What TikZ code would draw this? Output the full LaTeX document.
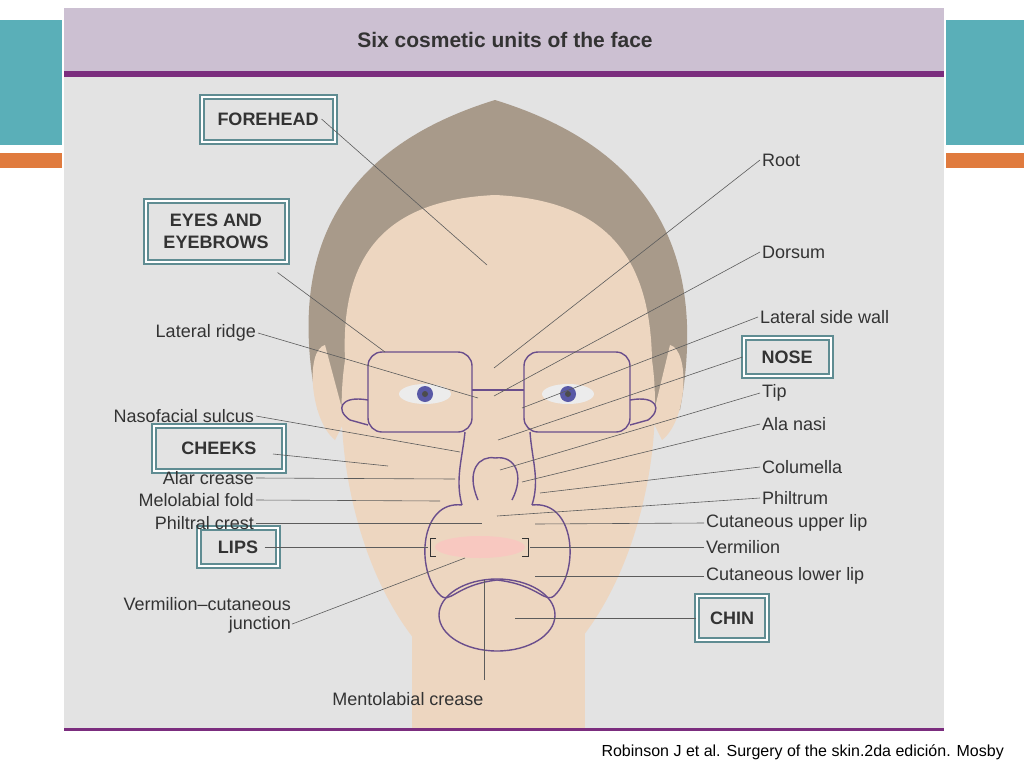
\documentclass[tikz,border=0pt]{standalone}
\usepackage{fontspec}
\setmainfont{Liberation Sans}
\usetikzlibrary{positioning}
\definecolor{teal}{HTML}{5AAFB8}
\definecolor{orng}{HTML}{E07B3E}
\definecolor{panel}{HTML}{E3E3E3}
\definecolor{band}{HTML}{CCC0D2}
\definecolor{purp}{HTML}{7B2D7E}
\definecolor{hair}{HTML}{A89A8A}
\definecolor{skin}{HTML}{EDD6C0}
\definecolor{unit}{HTML}{6A4E8C}
\definecolor{boxc}{HTML}{5F8C92}
\definecolor{txt}{HTML}{333333}
\tikzset{
  lbl/.style={font=\fontsize{18}{19}\selectfont, text=txt, inner sep=2pt},
  unitbox/.style={font=\bfseries\fontsize{18}{22}\selectfont, text=txt, draw=boxc,
    double=white, double distance=2pt, line width=2pt, inner sep=4pt, align=center},
  lead/.style={draw=txt!80, line width=0.6pt},
  cu/.style={draw=unit, line width=1.4pt}
}
\begin{document}
\begin{tikzpicture}[x=1pt, y=-1pt]
  \useasboundingbox (0,0) rectangle (1024,768);
  \fill[white] (0,0) rectangle (1024,768);
  % side bars
  \fill[teal] (0,20) rectangle (62,145);
  \fill[teal] (946,20) rectangle (1024,145);
  \fill[orng] (0,153) rectangle (62,168);
  \fill[orng] (946,153) rectangle (1024,168);
  % panel
  \fill[panel] (64,8) rectangle (944,730);
  \fill[band] (64,8) rectangle (944,72);
  \fill[purp] (64,71) rectangle (944,77);
  \fill[purp] (64,728) rectangle (944,731);
  \node[font=\bfseries\fontsize{21}{24}\selectfont, text=txt] (title) at (505,40) {Six cosmetic units of the face};

  % hair, neck, face
  \fill[hair] (318,410) .. controls (295,300) and (300,160) .. (495,100)
    .. controls (690,160) and (700,300) .. (680,410) -- cycle;
  \fill[skin] (412,620) rectangle (585,728);
  \fill[skin] (325,345) .. controls (305,350) and (310,420) .. (335,440) -- (345,420) -- cycle;
  \fill[skin] (670,345) .. controls (690,350) and (688,420) .. (662,440) -- (652,420) -- cycle;
  \fill[skin] (345,360) .. controls (340,250) and (390,200) .. (495,195)
    .. controls (600,200) and (650,250) .. (652,360)
    .. controls (668,470) and (620,660) .. (497,700)
    .. controls (375,660) and (328,470) .. (345,360) -- cycle;
  % eyes
  \fill[white!85!gray] (425,394) ellipse (26 and 10);
  \fill[white!85!gray] (568,394) ellipse (26 and 10);
  \fill[gray!70!blue] (425,394) circle (8);
  \fill[gray!70!blue] (568,394) circle (8);
  \fill[black!70] (425,394) circle (3);
  \fill[black!70] (568,394) circle (3);
  % lips
  \fill[pink!60!skin] (480,547) ellipse (45 and 11);

  % cosmetic units
  \draw[cu, rounded corners=14] (368,352) rectangle (472,432);
  \draw[cu, rounded corners=14] (524,352) rectangle (630,432);
  \draw[cu] (472,390) -- (524,390);
  \draw[cu] (368,400) .. controls (340,395) and (335,410) .. (350,420) -- (368,425);
  \draw[cu] (630,400) .. controls (658,395) and (662,410) .. (648,420) -- (630,425);
  \draw[cu] (465,432) .. controls (462,460) and (455,480) .. (462,505);
  \draw[cu] (530,432) .. controls (532,460) and (540,480) .. (532,505);
  \draw[cu] (478,500) .. controls (465,470) and (480,455) .. (495,458)
    .. controls (515,455) and (525,475) .. (512,500);
  \draw[cu] (462,505) .. controls (420,500) and (415,570) .. (440,595)
    .. controls (450,605) and (455,585) .. (497,580)
    .. controls (540,585) and (545,605) .. (555,595)
    .. controls (580,570) and (575,500) .. (532,505);
  \draw[cu] (497,615) ellipse (58 and 36);
  \draw[line width=0.8pt, txt] (436,538) -- (430,538) -- (430,556) -- (436,556);
  \draw[line width=0.8pt, txt] (522,538) -- (528,538) -- (528,556) -- (522,556);

  % target points
  \coordinate (pFore) at (487,265);
  \coordinate (pEyes) at (385,352);
  \coordinate (pLat) at (478,398);
  \coordinate (pNaso) at (460,452);
  \coordinate (pCheek) at (388,466);
  \coordinate (pAlar) at (455,479);
  \coordinate (pMelo) at (440,501);
  \coordinate (pPhc) at (482,523);
  \coordinate (pLips) at (428,547);
  \coordinate (pVcj) at (465,558);
  \coordinate (pMent) at (484,580);
  \coordinate (pRoot) at (494,368);
  \coordinate (pDors) at (494,396);
  \coordinate (pLsw) at (522,408);
  \coordinate (pNose) at (498,440);
  \coordinate (pTip) at (500,470);
  \coordinate (pAla) at (522,482);
  \coordinate (pCol) at (540,493);
  \coordinate (pPhil) at (497,516);
  \coordinate (pCul) at (535,524);
  \coordinate (pVerm) at (530,547);
  \coordinate (pCll) at (535,576);
  \coordinate (pChin) at (515,618);

  % unit boxes
  \node[unitbox, minimum width=133pt, minimum height=45pt] (fore) at (268,119) {FOREHEAD};
  \node[unitbox, minimum width=141pt, minimum height=61pt] (eyes) at (216,231) {EYES AND\\EYEBROWS};
  \node[unitbox, minimum width=130pt, minimum height=45pt] (cheeks) at (219,448) {CHEEKS};
  \node[unitbox, minimum width=79pt, minimum height=38pt] (lips) at (238,547) {LIPS};
  \node[unitbox, minimum width=87pt, minimum height=38pt] (nose) at (787,357) {NOSE};
  \node[unitbox, minimum width=70pt, minimum height=44pt] (chin) at (732,618) {CHIN};

  % left labels
  \node[lbl, anchor=east] (lat) at (258,333) {Lateral ridge};
  \node[lbl, anchor=east] (naso) at (256,416) {Nasofacial sulcus};
  \node[lbl, anchor=east] (alar) at (256,478) {Alar crease};
  \node[lbl, anchor=east] (melo) at (256,500) {Melolabial fold};
  \node[lbl, anchor=east] (phc) at (256,523) {Philtral crest};
  \node[lbl, anchor=east, align=right, inner sep=1pt] (vcj) at (292,615) {Vermilion–cutaneous\\junction};
  \node[lbl] (ment) at (408,699) {Mentolabial crease};
  % right labels
  \node[lbl, anchor=west] (root) at (760,160) {Root};
  \node[lbl, anchor=west] (dors) at (760,252) {Dorsum};
  \node[lbl, anchor=west] (lsw) at (758,317) {Lateral side wall};
  \node[lbl, anchor=west] (tip) at (760,393) {Tip};
  \node[lbl, anchor=west] (ala) at (760,424) {Ala nasi};
  \node[lbl, anchor=west] (col) at (760,467) {Columella};
  \node[lbl, anchor=west] (phil) at (760,498) {Philtrum};
  \node[lbl, anchor=west] (cul) at (704,523) {Cutaneous upper lip};
  \node[lbl, anchor=west] (verm) at (704,547) {Vermilion};
  \node[lbl, anchor=west] (cll) at (704,576) {Cutaneous lower lip};

  \node[font=\fontsize{16}{18}\selectfont, anchor=west] (ref) at (598,752) {Robinson J et al. Surgery of the skin.2da edición. Mosby};

  % leaders
  \draw[lead] (fore.east) ++(-14,0) -- (pFore);
  \draw[lead] (eyes.south east) ++(-10,10) -- (pEyes);
  \draw[lead] (lat.east) -- (pLat);
  \draw[lead] (naso.east) -- (pNaso);
  \draw[lead] (cheeks.east) ++(-12,6) -- (pCheek);
  \draw[lead] (alar.east) -- (pAlar);
  \draw[lead] (melo.east) -- (pMelo);
  \draw[lead] (phc.east) -- (pPhc);
  \draw[lead] (lips.east) ++(-14,0) -- (pLips);
  \draw[lead] (vcj.south east) ++(0,-10) -- (pVcj);
  \draw[lead] (ment.north) ++(76,-10) -- (pMent);
  \draw[lead] (root.west) -- (pRoot);
  \draw[lead] (dors.west) -- (pDors);
  \draw[lead] (lsw.west) -- (pLsw);
  \draw[lead] (nose.west) -- (pNose);
  \draw[lead] (tip.west) -- (pTip);
  \draw[lead] (ala.west) -- (pAla);
  \draw[lead] (col.west) -- (pCol);
  \draw[lead] (phil.west) -- (pPhil);
  \draw[lead] (cul.west) -- (pCul);
  \draw[lead] (verm.west) -- (pVerm);
  \draw[lead] (cll.west) -- (pCll);
  \draw[lead] (chin.west) -- (pChin);
\end{tikzpicture}
\end{document}
